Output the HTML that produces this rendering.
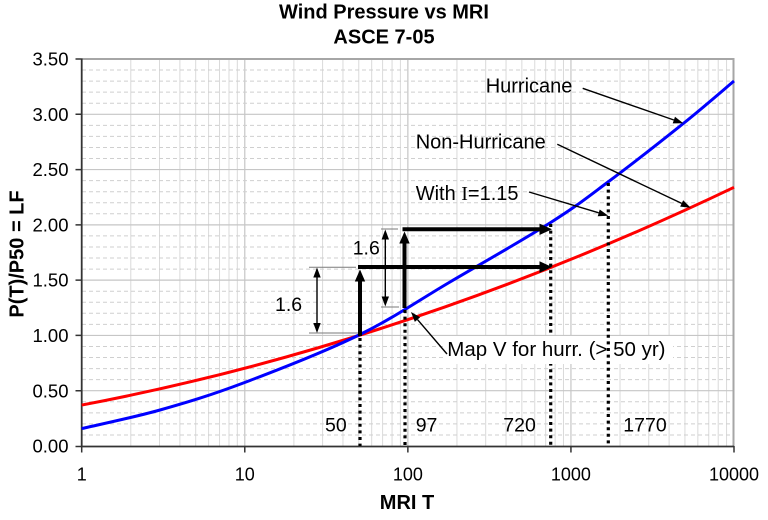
<!DOCTYPE html>
<html>
<head>
<meta charset="utf-8">
<style>
html,body{margin:0;padding:0;background:#fff;}
svg{display:block;}
text{font-family:"Liberation Sans",Arial,sans-serif;fill:#000;}
</style>
</head>
<body>
<svg width="768" height="520" viewBox="0 0 768 520" xmlns="http://www.w3.org/2000/svg">
<rect x="0" y="0" width="768" height="520" fill="#fff"/>

<!-- minor vertical grid -->
<path fill="none" stroke="#dadada" stroke-width="1" d="
M130.79 59V446M159.51 59V446M179.88 59V446M195.69 59V446M208.6 59V446M219.52 59V446M228.98 59V446M237.32 59V446
M293.87 59V446M322.59 59V446M342.96 59V446M358.77 59V446M371.68 59V446M382.6 59V446M392.06 59V446M400.4 59V446
M456.95 59V446M485.67 59V446M506.04 59V446M521.85 59V446M534.76 59V446M545.68 59V446M555.14 59V446M563.48 59V446
M620.03 59V446M648.75 59V446M669.12 59V446M684.93 59V446M697.84 59V446M708.76 59V446M718.22 59V446M726.56 59V446"/>
<!-- major vertical grid -->
<path fill="none" stroke="#c6c6c6" stroke-width="1.2" d="M244.78 59V446M407.86 59V446M570.94 59V446"/>
<!-- minor horizontal dashed -->
<path fill="none" stroke="#cfcfcf" stroke-width="1" stroke-dasharray="4 3" d="
M82 434.94H733M82 423.89H733M82 412.83H733M82 401.77H733
M82 379.66H733M82 368.6H733M82 357.54H733M82 346.49H733
M82 324.37H733M82 313.31H733M82 302.26H733M82 291.2H733
M82 269.09H733M82 258.03H733M82 246.97H733M82 235.91H733
M82 213.8H733M82 202.74H733M82 191.69H733M82 180.63H733
M82 158.51H733M82 147.46H733M82 136.4H733M82 125.34H733
M82 103.23H733M82 92.17H733M82 81.11H733M82 70.06H733"/>
<!-- major horizontal grid -->
<path fill="none" stroke="#c6c6c6" stroke-width="1.2" d="M82 390.71H733M82 335.43H733M82 280.14H733M82 224.86H733M82 169.57H733M82 114.29H733"/>

<!-- frame top/right -->
<path fill="none" stroke="#a6a6a6" stroke-width="2" d="M81.7 59H733.5V446"/>
<!-- axes -->
<path fill="none" stroke="#333" stroke-width="1.8" d="M81.7 58.5V446.5H734"/>
<!-- y ticks -->
<path fill="none" stroke="#333" stroke-width="1.5" d="M75.5 59H81.7M75.5 114.29H81.7M75.5 169.57H81.7M75.5 224.86H81.7M75.5 280.14H81.7M75.5 335.43H81.7M75.5 390.71H81.7M75.5 446.5H81.7"/>
<!-- x ticks -->
<path fill="none" stroke="#333" stroke-width="1.5" d="M81.7 446V452.5M244.78 446V452.5M407.86 446V452.5M570.94 446V452.5M734 446V452.5"/>

<!-- y tick labels -->
<g font-size="18.5" text-anchor="end">
<text x="68.5" y="65.6">3.50</text>
<text x="68.5" y="120.9">3.00</text>
<text x="68.5" y="176.2">2.50</text>
<text x="68.5" y="231.5">2.00</text>
<text x="68.5" y="286.7">1.50</text>
<text x="68.5" y="342">1.00</text>
<text x="68.5" y="397.3">0.50</text>
<text x="68.5" y="452.6">0.00</text>
</g>
<!-- x tick labels -->
<g font-size="18" text-anchor="middle">
<text x="81.7" y="480.7">1</text>
<text x="244.8" y="480.7">10</text>
<text x="407.9" y="480.7">100</text>
<text x="570.9" y="480.7">1000</text>
<text x="734" y="480.7">10000</text>
</g>

<!-- titles -->
<g font-weight="bold" font-size="20" text-anchor="middle">
<text x="384" y="18.3">Wind Pressure vs MRI</text>
<text x="384" y="43.3">ASCE 7-05</text>
<text x="407" y="509">MRI T</text>
<text transform="translate(23.3,254) rotate(-90)">P(T)/P50 = LF</text>
</g>

<!-- curves -->
<path fill="none" stroke="#ff0000" stroke-width="3" d="M81.7,405.06 Q407.86,343.09 734.02,187.33"/>
<path fill="none" stroke="#0000ff" stroke-width="3" d="M81.7,428.6 C94.75,425.5 133.07,417.6 160,410 C186.93,402.4 210.13,395.5 243.3,383 C276.47,370.5 324.55,351.83 359,335 C393.45,318.17 418.05,300.75 450,282 C481.95,263.25 524.37,239.17 550.7,222.5 C577.03,205.83 585.9,198.5 608,182 C630.1,165.5 662.3,140.33 683.3,123.5 C704.3,106.67 725.55,88.08 734,81"/>

<!-- dotted verticals -->
<g fill="none" stroke="#000" stroke-width="3.2" stroke-dasharray="3 3.6">
<path d="M360 338V446"/>
<path d="M405 310V446"/>
<path d="M550.7 224V446"/>
</g>

<!-- Map V text box -->
<rect x="445" y="336" width="228" height="28" fill="#fff"/>
<text x="447.3" y="356" font-size="20.5">Map V for hurr. (&gt; 50 yr)</text>

<!-- 1770 dotted over text -->
<path fill="none" stroke="#000" stroke-width="3.2" stroke-dasharray="3 3.6" d="M608.3 183V446"/>

<!-- dimension lines -->
<path fill="none" stroke="#7a7a7a" stroke-width="1" d="M309 267.3H356M309 333H359M381 229H398M381 307H399"/>
<!-- double arrows -->
<path fill="none" stroke="#000" stroke-width="1.4" d="M317 276V324M385.3 238V298"/>
<polygon points="317,267.5 313.3,277.5 320.7,277.5" fill="#000"/>
<polygon points="317,333 313.3,323 320.7,323" fill="#000"/>
<polygon points="385.3,229.5 381.6,239.5 389,239.5" fill="#000"/>
<polygon points="385.3,306.5 381.6,296.5 389,296.5" fill="#000"/>

<!-- thick arrows -->
<path fill="none" stroke="#000" stroke-width="4" d="M360 336V278M358 267H541M404.5 308V240M402.5 229.3H541"/>
<polygon points="360,269.5 354.8,281.5 365.2,281.5" fill="#000"/>
<polygon points="552,267 539.5,261.3 539.5,272.7" fill="#000"/>
<polygon points="404.5,231.5 399.3,243.5 409.7,243.5" fill="#000"/>
<polygon points="552,229.3 539.5,223.6 539.5,235" fill="#000"/>

<!-- thin annotation arrows -->
<path fill="none" stroke="#000" stroke-width="1.4" d="M582.7 88.3L673.85 120.01M557.3 144.3L681.67 203.41M529 192L598.72 212.84M447 354L417.51 319.59"/>
<polygon points="683.3,123.3 672.7,123.32 675,116.7" fill="#000"/>
<polygon points="690.7,207.7 680.17,206.57 683.17,200.25" fill="#000"/>
<polygon points="608.3,215.7 597.72,216.19 599.72,209.49" fill="#000"/>
<polygon points="411,312 420.17,317.31 414.85,321.87" fill="#000"/>

<!-- annotation labels -->
<g font-size="20">
<text x="485.7" y="92.3">Hurricane</text>
<text x="415.7" y="148.3">Non-Hurricane</text>
<text x="415.7" y="200">With <tspan font-family="'Liberation Serif','Times New Roman',serif">I</tspan>=1.15</text>
</g>
<g font-size="19.5">
<text x="275" y="311">1.6</text>
<text x="352.7" y="254.7">1.6</text>
<text x="325" y="431.7">50</text>
<text x="415.7" y="431.7">97</text>
<text x="503.3" y="431.7">720</text>
<text x="623.3" y="431.7">1770</text>
</g>
</svg>
</body>
</html>
